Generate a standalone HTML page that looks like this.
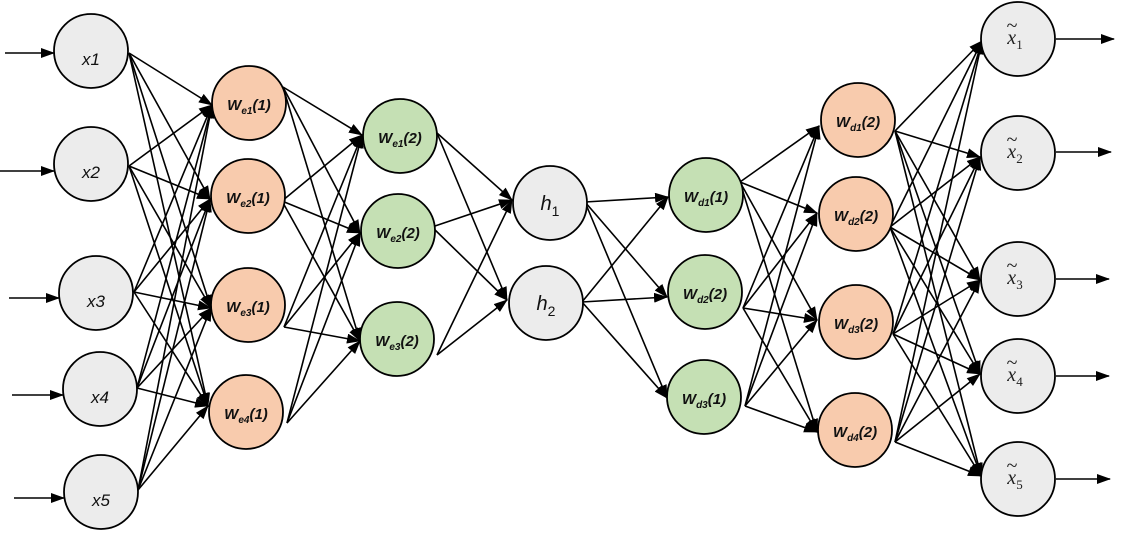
<!DOCTYPE html>
<html><head><meta charset="utf-8"><style>
html,body{margin:0;padding:0;background:#fff;}
svg{display:block;}
.w{font-family:"Liberation Sans",sans-serif;font-weight:bold;font-style:italic;font-size:15px;fill:#111;}
.x{font-family:"Liberation Sans",sans-serif;font-style:italic;font-size:17px;fill:#111;}
.h{font-family:"Liberation Sans",sans-serif;font-style:italic;font-size:20px;fill:#111;}
.o{font-family:"Liberation Serif",serif;font-size:20px;fill:#222;}
</style></head><body>
<svg width="1128" height="548" viewBox="0 0 1128 548" xmlns="http://www.w3.org/2000/svg">
<defs><marker id="a" markerUnits="userSpaceOnUse" markerWidth="14" markerHeight="10" refX="13" refY="5" orient="auto"><path d="M0,0 L14,5 L0,10 z" fill="#000"/></marker></defs>
<g id="edges" stroke="#000" stroke-width="1.6" fill="none" marker-end="url(#a)"></g>
<g id="nodes"></g>
</svg>
<script>
var E=document.getElementById('edges'),N=document.getElementById('nodes'),S='http://www.w3.org/2000/svg';
function ln(x1,y1,x2,y2){var l=document.createElementNS(S,'line');l.setAttribute('x1',x1);l.setAttribute('y1',y1);l.setAttribute('x2',x2);l.setAttribute('y2',y2);E.appendChild(l);}
var L=[
 {outs:[[129,53],[129,166],[134,292],[137,388],[138,490]]},
 {ins:[[212,105],[210,199],[211,308],[208,406]],outs:[[283,87],[282,201],[284,327],[287,423]]},
 {ins:[[362,135],[360,233],[360,341]],outs:[[437,133],[432,227],[437,355]]},
 {ins:[[512,200],[507,300]],outs:[[585,202],[582,302]]},
 {ins:[[668,197],[667,297],[667,398]],outs:[[740,182],[743,308],[745,406]]},
 {ins:[[819,126],[817,213],[817,320],[817,432]],outs:[[895,131],[890,227],[893,334],[895,442]]},
 {ins:[[982,41],[980,157],[980,280],[980,374],[981,476]]}
];
for(var i=0;i<L.length-1;i++){L[i].outs.forEach(function(o){L[i+1].ins.forEach(function(t){ln(o[0],o[1],t[0],t[1]);});});}
[[5,53,54],[0,171,54],[9,298,59],[12,395,63],[14,498,64]].forEach(function(a){ln(a[0],a[1],a[2],a[1]);});
[[39,1114],[152,1111],[279,1109],[376,1109],[479,1110]].forEach(function(a){ln(1056,a[0],a[1],a[0]);});
function c(x,y,f){var e=document.createElementNS(S,'circle');e.setAttribute('cx',x);e.setAttribute('cy',y);e.setAttribute('r',37);e.setAttribute('fill',f);e.setAttribute('stroke','#000');e.setAttribute('stroke-width','1.8');N.appendChild(e);}
function t(x,y,html,cls){var e=document.createElementNS(S,'text');e.setAttribute('x',x);e.setAttribute('y',y);e.setAttribute('class',cls);e.setAttribute('text-anchor','middle');e.innerHTML=html;N.appendChild(e);}
var G='#ececec',O='#f8cbad',Gr='#c5e0b4';
[[91,51,'x1'],[91,164,'x2'],[96,293,'x3'],[100,389,'x4'],[101,492,'x5']].forEach(function(n){c(n[0],n[1],G);t(n[0],n[1]+14,n[2],'x');});
function W(x,y,f,s,k){c(x,y,f);t(x,y+7,'W<tspan font-size="10" dy="4">'+s+'</tspan><tspan dy="-4">('+k+')</tspan>','w');}
W(249,103,O,'e1',1);W(248,196,O,'e2',1);W(248,305,O,'e3',1);W(246,412,O,'e4',1);
W(400,136,Gr,'e1',2);W(398,231,Gr,'e2',2);W(397,339,Gr,'e3',2);
c(550,203,G);t(550,210,'h<tspan font-size="14" dy="6" font-style="normal">1</tspan>','h');
c(546,303,G);t(546,310,'h<tspan font-size="14" dy="6" font-style="normal">2</tspan>','h');
W(706,195,Gr,'d1',1);W(705,292,Gr,'d2',2);W(704,397,Gr,'d3',1);
W(858,120,O,'d1',2);W(856,214,O,'d2',2);W(856,322,O,'d3',2);W(855,430,O,'d4',2);
[[39,1],[153,2],[279,3],[376,4],[479,5]].forEach(function(n){c(1018,n[0],G);
 t(1015,n[0]+5,'<tspan font-style="italic">x</tspan><tspan font-size="13" dy="5">'+n[1]+'</tspan>','o');
 t(1012,n[0]-7,'~','o');});
</script>
</body></html>
